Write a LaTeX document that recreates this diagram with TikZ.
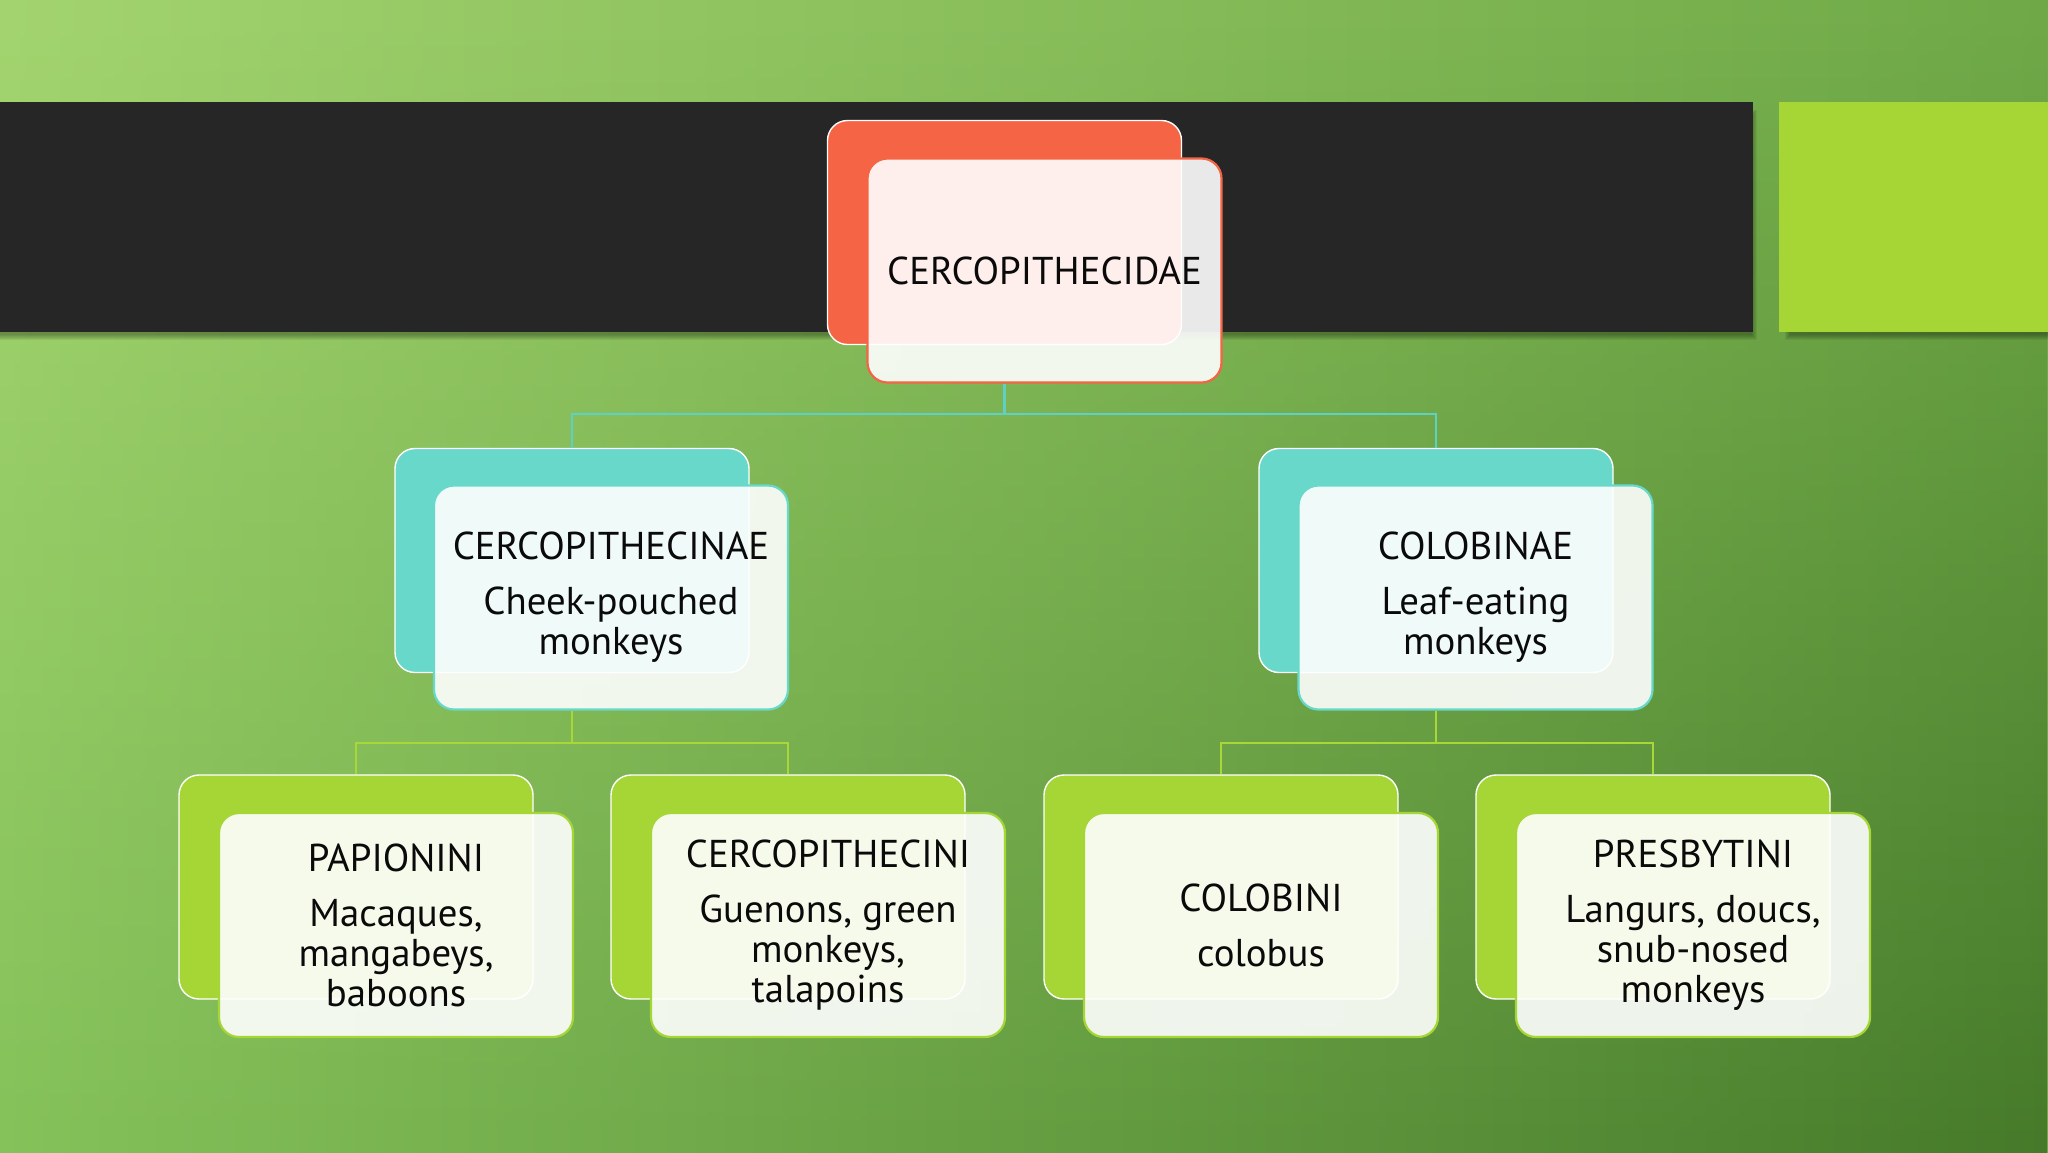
\documentclass[tikz,border=0pt]{standalone}
\usepackage{fontspec}
\setmainfont{PT Sans}
\usetikzlibrary{fadings}
\definecolor{bgTL}{RGB}{163,212,111}
\definecolor{bgTR}{RGB}{112,170,72}
\definecolor{bgBL}{RGB}{133,194,90}
\definecolor{bgBR}{RGB}{70,122,42}
\definecolor{barblack}{RGB}{38,38,38}
\definecolor{limesq}{RGB}{166,214,54}
\definecolor{orangeC}{RGB}{245,101,69}
\definecolor{tealC}{RGB}{104,216,202}
\definecolor{limeC}{RGB}{166,214,54}
\definecolor{tealL}{RGB}{95,208,196}
\definecolor{limeL}{RGB}{168,216,56}
\definecolor{txt}{RGB}{10,10,10}
\tikzfading[name=fadedown, top color=transparent!100, bottom color=transparent!0]
\begin{document}
\begin{tikzpicture}[x=0.5pt,y=-0.5pt,
  backbox/.style={draw=white, line width=0.7pt, fill=#1, rounded corners=10pt,
    minimum width=177pt, minimum height=112pt, inner sep=0pt},
  frontbox/.style={draw=#1, line width=1.1pt, fill=white, fill opacity=0.9, text opacity=1,
    rounded corners=10pt, minimum width=177pt, minimum height=112pt, inner sep=0pt,
    align=center, text=txt, font=\fontsize{19.4}{20}\selectfont},
  connT/.style={draw=tealL, line width=1.1pt},
  connL/.style={draw=limeL, line width=1.1pt}]
% background
\useasboundingbox (0,0) rectangle (2048,1152);
\shade[left color=bgTL, right color=bgTR] (0,0) rectangle (2048,1152);
\shade[left color=bgBL, right color=bgBR, path fading=fadedown] (0,0) rectangle (2048,1152);
% shadows
\foreach \i in {0,...,5} {
  \fill[black, opacity=0.06] (0, 110+\i) rectangle (1757-\i, 340-\i);
  \fill[black, opacity=0.06] (1785+\i, 110+\i) rectangle (2048, 340-\i);
}
% header bar and square
\fill[barblack] (0,102) rectangle (1753,332);
\fill[limesq] (1779,102) rectangle (2048,332);
% boxes
\node[backbox=orangeC] (topB) at (1004.5,232.5) {};
\node[frontbox=orangeC] (top) at (1044.5,270.5) {CERCOPITHECIDAE};

\node[backbox=tealC] (l2aB) at (572,560.5) {};
\node[frontbox=tealC] (l2a) at (611,597.5) {CERCOPITHECINAE\\[7.5pt]Cheek-pouched\\monkeys};
\node[backbox=tealC] (l2bB) at (1436,560.5) {};
\node[frontbox=tealC] (l2b) at (1475.5,597.5) {COLOBINAE\\[7.5pt]Leaf-eating\\monkeys};

\node[backbox=limeC] (l3aB) at (356,887) {};
\node[frontbox=limeC] (l3a) at (396,925) {PAPIONINI\\[7.5pt]Macaques,\\mangabeys,\\baboons};
\node[backbox=limeC] (l3bB) at (788,887) {};
\node[frontbox=limeC] (l3b) at (828,925) {CERCOPITHECINI\\[7.5pt]Guenons, green\\monkeys,\\talapoins};
\node[backbox=limeC] (l3cB) at (1221,887) {};
\node[frontbox=limeC] (l3c) at (1261,925) {COLOBINI\\[7.5pt]colobus};
\node[backbox=limeC] (l3dB) at (1653,887) {};
\node[frontbox=limeC] (l3d) at (1693,925) {PRESBYTINI\\[7.5pt]Langurs, doucs,\\snub-nosed\\monkeys};
% connectors
\coordinate (bus1) at (0,414);
\coordinate (bus2) at (0,743);
\draw[connT] (topB |- top.south) -- (topB |- bus1) -| (l2aB.north);
\draw[connT] (topB |- bus1) -| (l2bB.north);
\draw[connL] (l2aB |- l2a.south) -- (l2aB |- bus2) -| (l3aB.north);
\draw[connL] (l2aB |- bus2) -| (l3bB.north);
\draw[connL] (l2bB |- l2b.south) -- (l2bB |- bus2) -| (l3cB.north);
\draw[connL] (l2bB |- bus2) -| (l3dB.north);
\end{tikzpicture}
\end{document}
